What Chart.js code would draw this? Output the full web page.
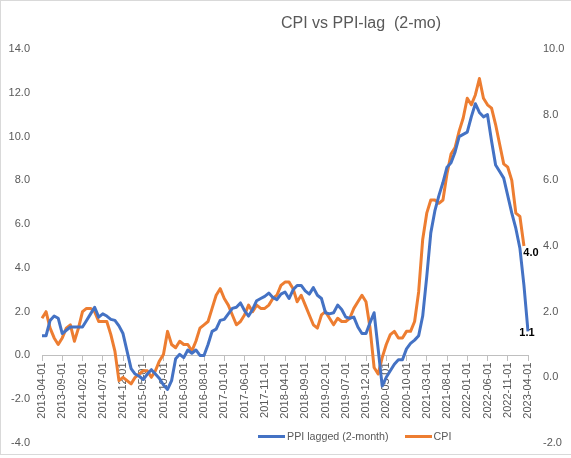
<!DOCTYPE html>
<html>
<head>
<meta charset="utf-8">
<script src="https://cdn.jsdelivr.net/npm/chart.js@4.4.0/dist/chart.umd.min.js"></script>
<style>
  body { margin: 0; background: #fff; font-family: "Liberation Sans", Arial, sans-serif; }
  #wrap { position: relative; width: 571px; height: 458px; overflow: hidden; }
  #frame { position: absolute; left: 0; top: 0; width: 571px; height: 453px; border: 1px solid #d9d9d9; }
  #title { position: absolute; left: 281px; top: 15px; font-size: 16px; line-height: 16px; color: #595959; white-space: pre; }
  #legend { position: absolute; left: 258px; top: 430px; display: flex; align-items: center; font-size: 10.7px; color: #595959; white-space: pre; }
  .sw { display: inline-block; width: 27px; height: 3px; margin-right: 2px; }
  canvas { position: absolute; left: 0; top: 0; }
</style>
</head>
<body>
<div id="wrap">
  <div id="frame"></div>
  <canvas id="chart" width="571" height="458"></canvas>
  <div id="title">CPI vs PPI-lag  (2-mo)</div>
  <div id="legend"></div>
</div>
<script>
// monthly categories 2013-04-01 .. 2023-04-01
let months = [];
for (let k = 0; k < 121; k++) {
  let m = 3 + k;
  let y = 2013 + Math.floor(m / 12);
  let mm = (m % 12) + 1;
  months.push(y + "-" + (mm < 10 ? "0" + mm : mm) + "-01");
}

// PPI lagged (2-month), left axis
let ppiLagged = [
  0.9, 0.9, 1.6, 1.8, 1.7, 1.0, 1.15, 1.3, 1.3, 1.3,
  1.3, 1.6, 1.9, 2.2, 1.75, 1.9, 1.8, 1.65, 1.6, 1.35,
  1.0, 0.2, -0.6, -0.85, -0.95, -1.1, -0.85, -0.65, -0.85, -1.05,
  -1.35, -1.55, -1.15, -0.15, 0.05, -0.1, 0.25, 0.1, 0.25, 0.0,
  0.0, 0.5, 1.1, 1.2, 1.6, 1.65, 1.9, 2.15, 2.2, 2.4,
  2.05, 1.8, 2.1, 2.5, 2.6, 2.7, 2.85, 2.65, 2.55, 2.8,
  2.9, 2.6, 3.0, 3.2, 3.2, 2.95, 2.8, 3.1, 2.75, 2.6,
  1.95, 1.9, 1.95, 2.3, 2.1, 1.75, 1.7, 1.75, 1.3, 1.0,
  1.0, 1.5, 1.95, 0.3, -1.4, -1.0, -0.7, -0.4, -0.2, -0.2,
  0.3, 0.55, 0.7, 0.9, 1.8, 3.6, 5.6, 6.6, 7.3, 7.9,
  8.6, 8.8, 9.3, 10.0, 10.1, 10.2, 10.9, 11.5, 11.1, 10.9,
  11.0, 9.8, 8.7, 8.4, 8.1, 7.3, 6.5, 5.8, 4.9, 3.2,
  1.1
];

// CPI, right axis (no value for the last month)
let cpi = [
  1.8, 2.0, 1.5, 1.2, 1.0, 1.2, 1.5,
  1.6, 1.1, 1.5, 2.0, 2.1, 2.1, 2.0, 1.7, 1.7, 1.7, 1.3, 0.8,
  -0.1, 0.0, -0.1, -0.2, 0.0, 0.1, 0.2, 0.2, 0.0, 0.2, 0.5, 0.7,
  1.4, 1.0, 0.9, 1.1, 1.0, 1.0, 0.8, 1.1, 1.5, 1.6, 1.7, 2.1,
  2.5, 2.7, 2.4, 2.2, 1.9, 1.6, 1.7, 1.9, 2.2, 2.0, 2.2, 2.1,
  2.1, 2.2, 2.4, 2.5, 2.8, 2.9, 2.9, 2.7, 2.3, 2.5, 2.2, 1.9,
  1.6, 1.5, 1.9, 2.0, 1.8, 1.6, 1.8, 1.7, 1.7, 1.8, 2.1, 2.3,
  2.5, 2.3, 1.5, 0.3, 0.1, 0.6, 1.0, 1.3, 1.4, 1.2, 1.2, 1.4,
  1.4, 1.7, 2.6, 4.2, 5.0, 5.4, 5.4, 5.3, 5.4, 6.2, 6.8, 7.0,
  7.5, 7.9, 8.5, 8.3, 8.6, 9.1, 8.5, 8.3, 8.2, 7.7, 7.1, 6.5,
  6.4, 6.0, 5.0, 4.9, 4.0
];

let leftTicks = { min: -4, max: 14, step: 2 };
let rightTicks = { min: -2, max: 10, step: 2 };

let blue = '#4472C4';
let orange = '#ED7D31';
let grey = '#595959';

// bold value label on the last point of each line
const endLabels = {
  id: 'endLabels',
  afterDatasetsDraw(chart) {
    let ctx = chart.ctx;
    let offsets = [[-1, 2], [7, 7]];
    ctx.save();
    ctx.font = 'bold 11px "Liberation Sans", Arial, sans-serif';
    ctx.fillStyle = '#000';
    ctx.textAlign = 'center';
    ctx.textBaseline = 'middle';
    chart.data.datasets.forEach((ds, n) => {
      let last = ds.data.length - 1;
      let pt = chart.getDatasetMeta(n).data[last];
      ctx.fillText(ds.data[last].toFixed(1), pt.x + offsets[n][0], pt.y + offsets[n][1]);
    });
    ctx.restore();
  }
};

// fixed side widths so the plot spans the same place as the original
function sideAxis(width) {
  return (axis) => {
    axis.width = width;
    axis.paddingTop = 0;
    axis.paddingBottom = 0;
  };
}

Chart.defaults.font.family = '"Liberation Sans", Arial, sans-serif';
Chart.defaults.font.size = 11;
Chart.defaults.color = grey;

let chart = new Chart(document.getElementById('chart'), {
  type: 'line',
  data: {
    labels: months,
    datasets: [{
      label: 'PPI lagged (2-month)',
      data: ppiLagged,
      borderColor: blue,
      backgroundColor: blue,
      borderWidth: 3,
      borderJoinStyle: 'round',
      pointRadius: 0,
      tension: 0,
      yAxisID: 'y'
    }, {
      label: 'CPI',
      data: cpi,
      borderColor: orange,
      backgroundColor: orange,
      borderWidth: 3,
      borderJoinStyle: 'round',
      pointRadius: 0,
      tension: 0,
      yAxisID: 'y1'
    }]
  },
  options: {
    responsive: false,
    animation: false,
    devicePixelRatio: 1,
    layout: { padding: { top: 49, left: 9, right: 7, bottom: 15 } },
    plugins: {
      legend: { display: false },
      title: { display: false },
      tooltip: { enabled: false }
    },
    scales: {
      x: {
        type: 'category',
        position: { y: 0 },
        offset: false,
        border: { display: true, color: '#bfbfbf', width: 1 },
        grid: {
          drawOnChartArea: false,
          drawTicks: true,
          tickLength: 5,
          tickColor: (c) => c.index % 5 === 0 ? '#bfbfbf' : 'rgba(0,0,0,0)'
        },
        ticks: {
          autoSkip: false,
          maxRotation: 90,
          minRotation: 90,
          padding: 2,
          callback: function (value, index) {
            return index % 5 === 0 ? months[index] : '';
          }
        },
        afterFit: (axis) => {
          axis.paddingLeft = 0;
          axis.paddingRight = 0;
        }
      },
      y: {
        position: 'left',
        min: leftTicks.min,
        max: leftTicks.max,
        grid: { display: false, drawTicks: false },
        border: { display: false },
        ticks: {
          stepSize: leftTicks.step,
          padding: 12,
          callback: (v) => v.toFixed(1)
        },
        afterFit: sideAxis(33)
      },
      y1: {
        position: 'right',
        min: rightTicks.min,
        max: rightTicks.max,
        grid: { display: false, drawTicks: false },
        border: { display: false },
        ticks: {
          stepSize: rightTicks.step,
          padding: 15,
          callback: (v) => v.toFixed(1)
        },
        afterFit: sideAxis(36)
      }
    }
  },
  plugins: [endLabels]
});

// legend
let legend = document.getElementById('legend');
chart.data.datasets.forEach((ds, n) => {
  let item = document.createElement('span');
  item.style.display = 'flex';
  item.style.alignItems = 'center';
  item.style.marginRight = n == 0 ? '16px' : '0';
  item.innerHTML = '<span class="sw" style="background:' + ds.borderColor + '"></span>' + ds.label;
  legend.appendChild(item);
});
</script>
</body>
</html>
